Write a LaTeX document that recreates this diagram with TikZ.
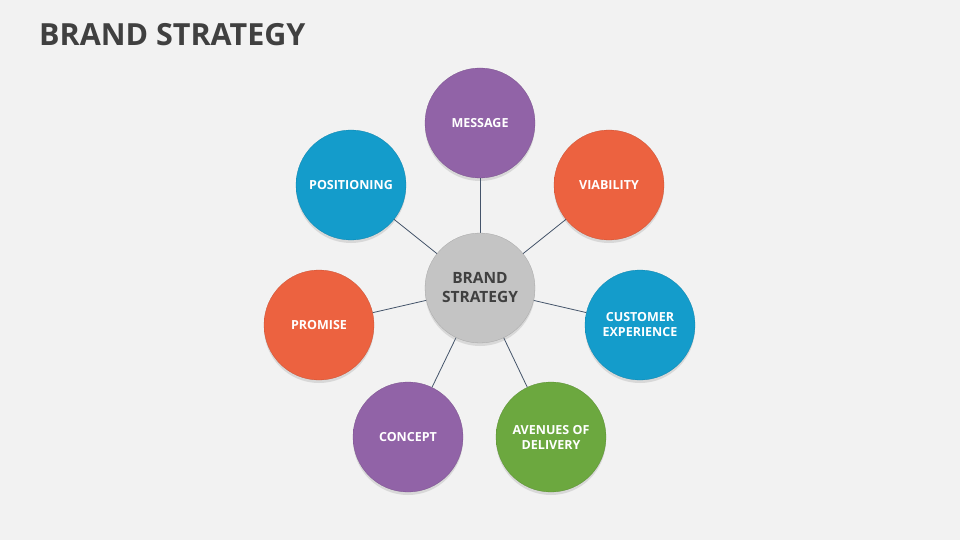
\documentclass[tikz,border=0pt]{standalone}
\usepackage{fontspec}
\setmainfont{Open Sans}
\usetikzlibrary{shadows}
\definecolor{bgc}{HTML}{F2F2F2}
\definecolor{titlec}{HTML}{404040}
\definecolor{linec}{HTML}{44546A}
\definecolor{cpurple}{HTML}{9163A7}
\definecolor{corange}{HTML}{EC6240}
\definecolor{cblue}{HTML}{149CCB}
\definecolor{cgreen}{HTML}{6CA83F}
\definecolor{cgray}{HTML}{C4C4C4}
\newcommand\mkbubble[1]{%
  \pgfdeclareradialshading{bubble#1}{\pgfpoint{0bp}{-4bp}}{color(0bp)=(#1); color(36bp)=(#1); color(48bp)=(#1!88!black); color(56bp)=(#1!80!black); color(70bp)=(#1!80!black)}}
\mkbubble{cpurple}
\mkbubble{corange}
\mkbubble{cblue}
\mkbubble{cgreen}
\mkbubble{cgray}
\tikzset{
  bub/.style={circle, minimum size=110pt, inner sep=0pt, align=center,
    shading=bubble#1,
    draw=#1!85!black, line width=0.3pt,
    drop shadow={shadow xshift=0pt, shadow yshift=-3pt, opacity=0.22},
    text=white, font=\fontsize{12.5}{15}\selectfont\bfseries},
  conn/.style={draw=linec, line width=0.8pt},
}
\begin{document}
\begin{tikzpicture}[x=1pt,y=-1pt]
\fill[bgc] (0,0) rectangle (960,540);
\useasboundingbox (0,0) rectangle (960,540);
\node[anchor=west, text=titlec, font=\fontsize{30.5}{36}\selectfont\bfseries, inner sep=0pt] (title) at (39,35) {BRAND STRATEGY};
\coordinate (cc) at (480,288);
\node[bub=cpurple] (msg) at (480,123) {MESSAGE};
\node[bub=corange] (via) at (609,185) {VIABILITY};
\node[bub=cblue] (cust) at (640,325) {CUSTOMER\\EXPERIENCE};
\node[bub=cgreen] (ave) at (551,437) {AVENUES OF\\DELIVERY};
\node[bub=cpurple] (con) at (408,437) {CONCEPT};
\node[bub=corange] (pro) at (319,325) {PROMISE};
\node[bub=cblue] (pos) at (351,185) {POSITIONING};
\foreach \n in {msg,via,cust,ave,con,pro,pos}{
  \draw[conn] (cc) -- (\n);
}
\node[bub=cgray, text=titlec, font=\fontsize{15.5}{19}\selectfont\bfseries] (bs) at (cc) {BRAND\\STRATEGY};
\end{tikzpicture}
\end{document}
